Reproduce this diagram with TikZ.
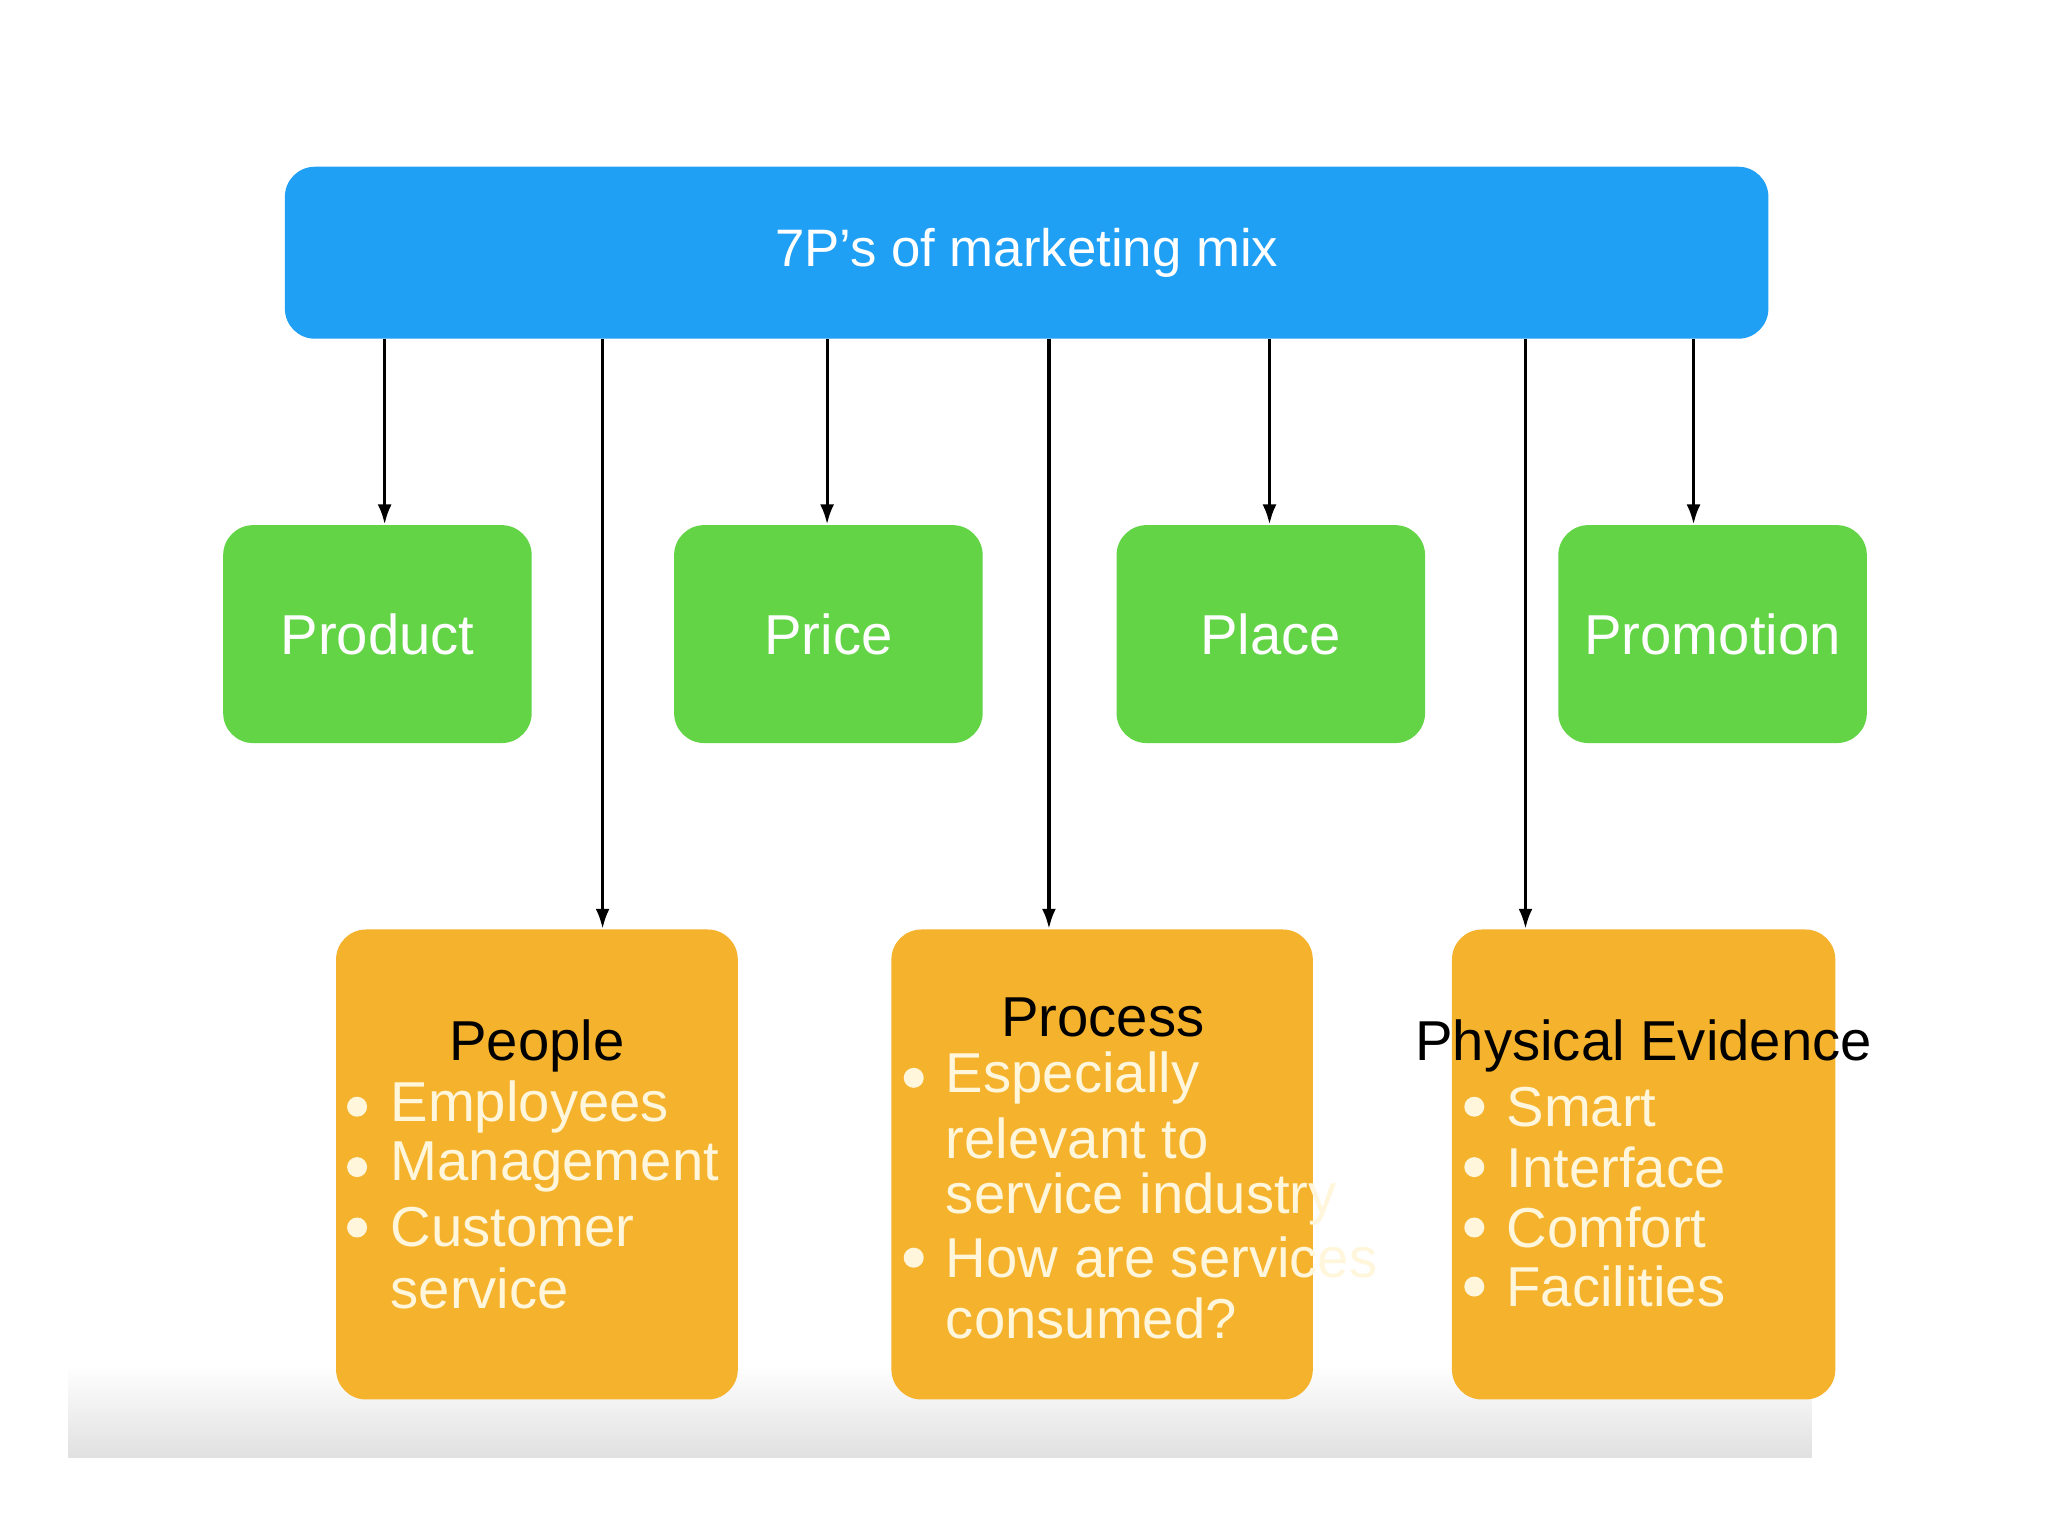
\documentclass[tikz,border=0pt]{standalone}
\usepackage{fontspec}
\setmainfont{Liberation Sans}
\usetikzlibrary{arrows.meta}
\definecolor{cblue}{HTML}{1FA0F5}
\definecolor{cgreen}{HTML}{62D445}
\definecolor{corange}{HTML}{F5B22C}
\definecolor{ctext}{HTML}{FFF6DC}
\begin{document}
\begin{tikzpicture}[x=0.013128cm,y=-0.013128cm,
  box/.style={rounded corners=0.3cm,draw=none},
  lbl/.style={font=\fontsize{16}{18}\selectfont,text=white},
  itm/.style={font=\fontsize{16}{18}\selectfont,text=ctext,anchor=west,inner sep=0},
  ttl/.style={font=\fontsize{16}{18}\selectfont,text=black,inner sep=0},
  bul/.style={circle,fill=ctext,minimum size=0.2cm,inner sep=0},
  arr/.style={-{Latex[length=0.2cm,width=0.14cm]},line width=0.9pt}]
\useasboundingbox (0,0) rectangle (1560,1170);
\fill[white] (0,0) rectangle (1560,1170);
\shade[top color=white,bottom color=black!12] (52,1040) rectangle (1380,1110);
\node[box,fill=cblue,minimum width=1130*0.013128cm,minimum height=131*0.013128cm,lbl,font=\fontsize{15}{18}\selectfont] (top) at (782,192.5) {7P’s of marketing mix};
\foreach \n/\x/\t in {prod/287.5/Product,price/631/Price,place/968/Place,promo/1304.5/Promotion}
  \node[box,fill=cgreen,minimum width=235*0.013128cm,minimum height=166*0.013128cm,lbl] (\n) at (\x,483) {\t};
\node[box,fill=corange,minimum width=306*0.013128cm,minimum height=358*0.013128cm] (people) at (409,887) {};
\node[box,fill=corange,minimum width=321*0.013128cm,minimum height=358*0.013128cm] (proc) at (839.5,887) {};
\node[box,fill=corange,minimum width=292*0.013128cm,minimum height=358*0.013128cm] (phys) at (1252,887) {};
\foreach \x/\n [count=\i] in {293/prod,630/price,967/place,1290/promo,459/people,799/proc,1162/phys}{
  \coordinate (ax\i) at (\x,0);
  \draw[arr] (top.south -| ax\i) -- (\n.north -| ax\i);}
% People
\node[ttl] (pt) at (409,797) {People};
\foreach \y/\b/\t [count=\i] in {843/1/Employees,889/1/Management,935/1/Customer,981/0/service}{
  \node[itm] (pi\i) at (297,\y) {\t};
  \ifnum\b=1 \node[bul] (pb\i) at (272,\y) {};\fi}
% Process
\node[ttl] (prt) at (840,775) {Process};
\foreach \y/\b/\t [count=\i] in {821/1/Especially,867/0/relevant to,913/0/service industry,958/1/How are services,1004/0/consumed?}{
  \node[itm] (ri\i) at (720,\y) {\t};
  \ifnum\b=1 \node[bul] (rb\i) at (696,\y) {};\fi}
% Physical evidence
\node[ttl] (pht) at (1252,797) {Physical Evidence};
\foreach \y/\t [count=\i] in {843/Smart,889/Interface,935/Comfort,980/Facilities}{
  \node[itm] (hi\i) at (1147,\y) {\t};
  \node[bul] (hb\i) at (1123,\y) {};}
\end{tikzpicture}
\end{document}
